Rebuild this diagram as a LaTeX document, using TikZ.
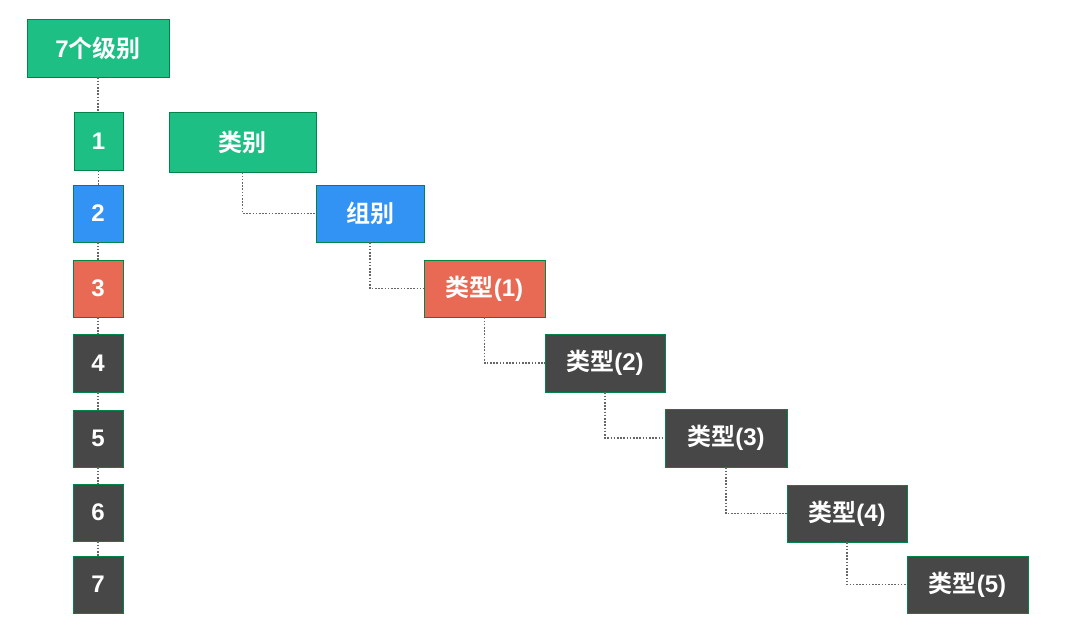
\documentclass[tikz,border=0pt]{standalone}
\usepackage{fontspec}
\setmainfont{Noto Sans CJK SC}[BoldFont=Noto Sans CJK SC Bold]
\newfontfamily\digfont{Liberation Sans}
\begin{document}
\begin{tikzpicture}[x=1pt,y=-1pt,
  bx/.style={draw=teal!70!green!80!black,line width=0.6pt,fill=#1,text=white,font=\bfseries\fontsize{24}{24}\selectfont,inner sep=0pt},
  con/.style={draw=gray!80!black,line width=1.6pt,dash pattern=on 1.6pt off 1.6pt}]
\definecolor{cg}{HTML}{1DBF85}
\definecolor{cb}{HTML}{3393F5}
\definecolor{cr}{HTML}{E86A55}
\definecolor{cd}{HTML}{474747}
\useasboundingbox (0,0) rectangle (1071,625);
\newcommand\bxat[6]{\node[bx=#6,minimum width={#3-#2},minimum height={#5-#4}] (#1) at ({(#2+#3)/2},{(#4+#5)/2}) {};}
\bxat{t}{27}{169}{19}{77}{cg}
\bxat{l1}{74}{123}{112}{170}{cg}
\bxat{l2}{73}{123}{185}{242}{cb}
\bxat{l3}{73}{123}{260}{317}{cr}
\bxat{l4}{73}{123}{334}{392}{cd}
\bxat{l5}{73}{123}{410}{467}{cd}
\bxat{l6}{73}{123}{484}{541}{cd}
\bxat{l7}{73}{123}{556}{613}{cd}
\bxat{a}{169}{316}{112}{172}{cg}
\bxat{b}{316}{424}{185}{242}{cb}
\bxat{c1}{424}{545}{260}{317}{cr}
\bxat{c2}{545}{665}{334}{392}{cd}
\bxat{c3}{665}{787}{409}{467}{cd}
\bxat{c4}{787}{907}{485}{542}{cd}
\bxat{c5}{907}{1028}{556}{613}{cd}
\tikzset{lb/.style={text=white,font=\bfseries\fontsize{24}{24}\selectfont}}
\node[lb] at (t) {\digfont 7\normalfont\bfseries 个级别};
\foreach \i in {1,...,7}{\node[lb] at (l\i) {\digfont\bfseries\i};}
\node[lb] at (a) {类别};
\node[lb] at (b) {组别};
\foreach \i in {1,...,5}{\node[lb] at (c\i) {类型\digfont\bfseries(\i)};}
\draw[con] (t.south) -- (t.south|-l1.north);
\foreach \i/\j in {1/2,2/3,3/4,4/5,5/6,6/7}{\draw[con] (l\i.south) -- (l\i.south|-l\j.north);}
\draw[con] (a.south) |- (b.west);
\draw[con] (b.south) |- (c1.west);
\draw[con] (c1.south) |- (c2.west);
\draw[con] (c2.south) |- (c3.west);
\draw[con] (c3.south) |- (c4.west);
\draw[con] (c4.south) |- (c5.west);
\end{tikzpicture}
\end{document}
